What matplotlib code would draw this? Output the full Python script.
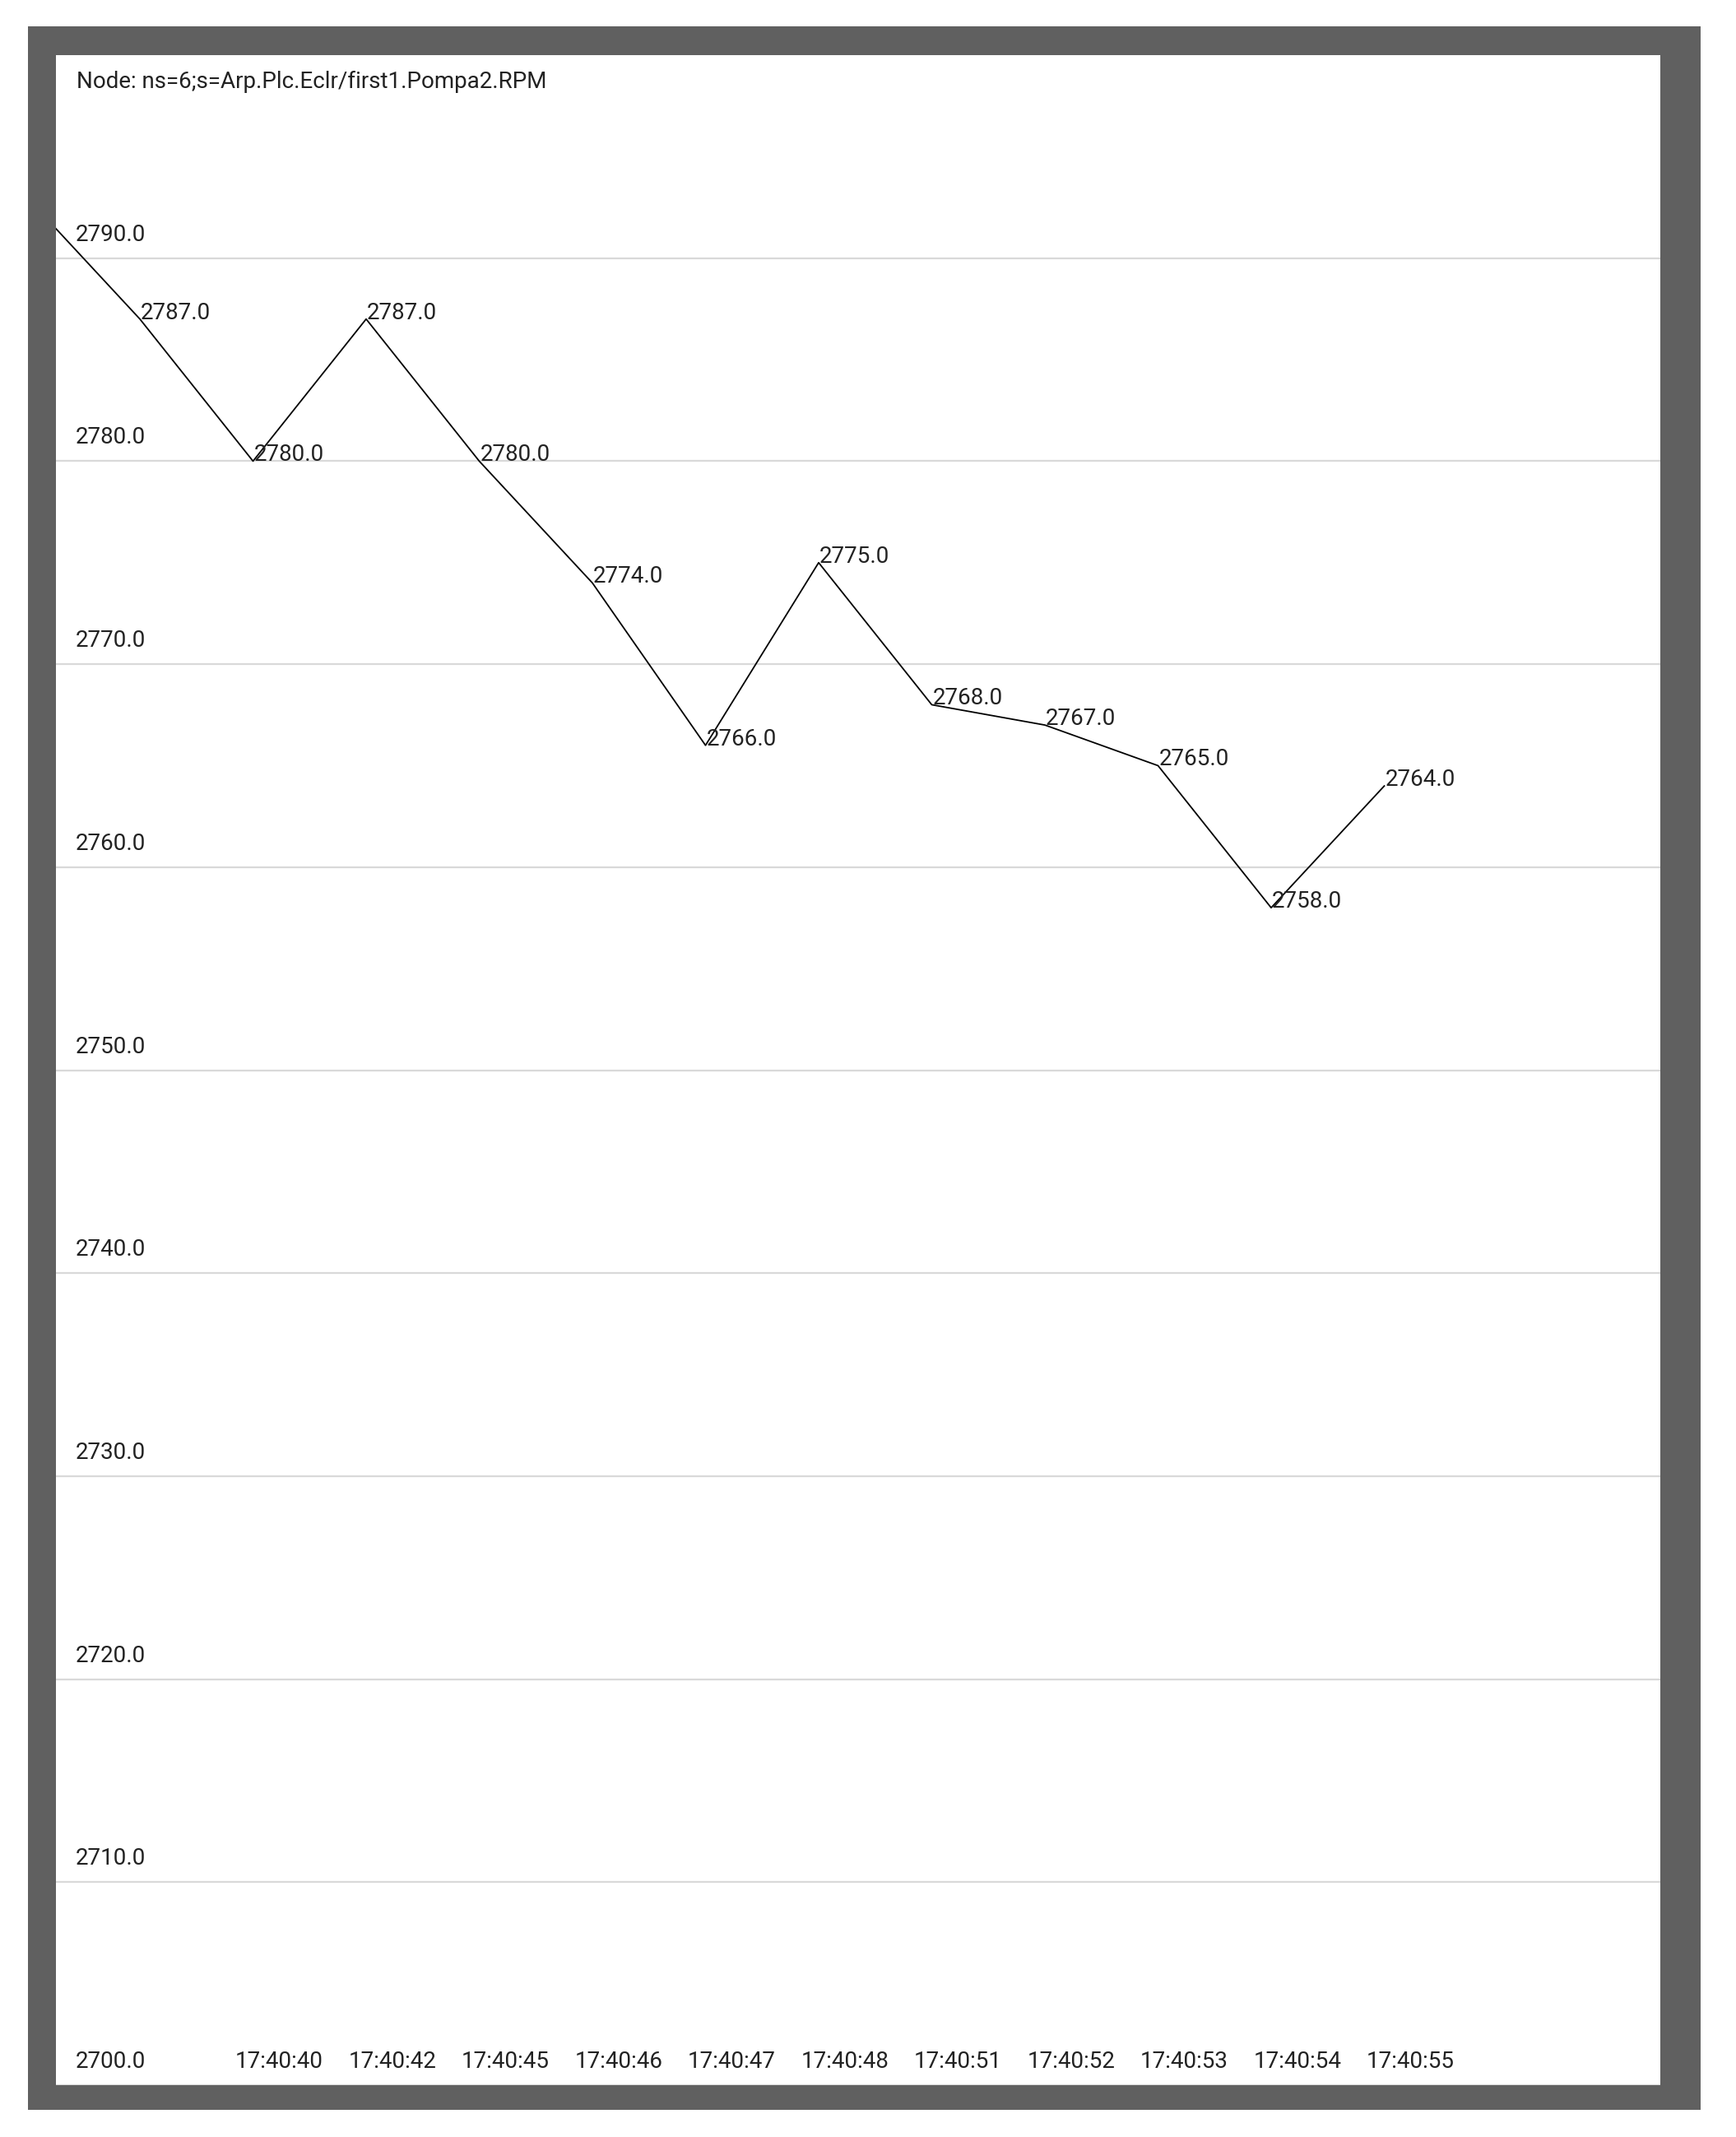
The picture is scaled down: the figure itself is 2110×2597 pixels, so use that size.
"""Trend view of the Pompa2 RPM node, redrawn with matplotlib."""

import matplotlib
matplotlib.use("Agg")
import matplotlib.pyplot as plt
from matplotlib.patches import Rectangle

plt.rcParams["font.family"] = ["Roboto", "DejaVu Sans"]

NODE_TITLE = "Node: ns=6;s=Arp.Plc.Eclr/first1.Pompa2.RPM"

# samples, oldest first; the first one is scrolled partly out of view
rpm_values = [2793.0, 2787.0, 2780.0, 2787.0, 2780.0, 2774.0, 2766.0,
              2775.0, 2768.0, 2767.0, 2765.0, 2758.0, 2764.0]
# time labels shown for samples 2..12
time_labels = ["17:40:40", "17:40:42", "17:40:45", "17:40:46", "17:40:47",
               "17:40:48", "17:40:51", "17:40:52", "17:40:53", "17:40:54",
               "17:40:55"]
y_ticks = [2700.0, 2710.0, 2720.0, 2730.0, 2740.0, 2750.0, 2760.0,
           2770.0, 2780.0, 2790.0]

W, H, DPI = 2110, 2597, 100
FS = 20

fig = plt.figure(figsize=(W / DPI, H / DPI), dpi=DPI)
fig.patch.set_facecolor("white")

# dark frame around the chart
fig.patches.append(Rectangle((34 / W, 1 - 2564 / H), (2067 - 34) / W, (2564 - 32) / H,
                             transform=fig.transFigure, facecolor="#606060",
                             edgecolor="none", zorder=0))

ax = fig.add_axes([68 / W, 1 - 2534 / H, (2018 - 68) / W, (2534 - 67) / H])
ax.set_facecolor("white")
ax.set_zorder(1)
for spine in ax.spines.values():
    spine.set_visible(False)
ax.set_xticks([])
ax.set_yticks([])

ax.set_xlim(0.258, 14.44)
ax.set_ylim(2700, 2800)

xs = list(range(len(rpm_values)))

for val in y_ticks:
    ax.axhline(val, color="#d9d9d9", linewidth=1.6, zorder=1)
    ax.annotate(f"{val:.1f}", xy=(0, val), xycoords=("axes fraction", "data"),
                xytext=(24, 21), textcoords="offset pixels",
                ha="left", va="baseline", fontsize=FS, color="#222222")

ax.plot(xs, rpm_values, color="black", linewidth=1.3, zorder=3, clip_on=True)

for x, v in zip(xs, rpm_values):
    ax.annotate(f"{v:.1f}", xy=(x, v), xytext=(1, 0), textcoords="offset pixels",
                ha="left", va="baseline", fontsize=FS, color="#222222",
                annotation_clip=True, zorder=4)

for i, lab in enumerate(time_labels):
    ax.annotate(lab, xy=(xs[i + 2], 2700), xytext=(32, 21), textcoords="offset pixels",
                ha="center", va="baseline", fontsize=FS, color="#222222")

ax.annotate(NODE_TITLE, xy=(0, 1), xycoords="axes fraction", xytext=(25, -40),
            textcoords="offset pixels", ha="left", va="baseline",
            fontsize=FS, color="#222222")

fig.savefig("out.png", dpi=DPI)
